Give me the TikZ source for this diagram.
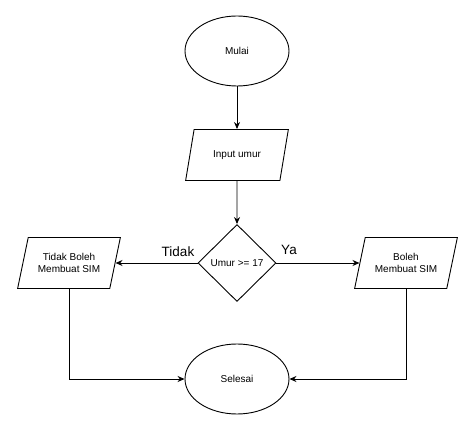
\documentclass[tikz,border=0pt]{standalone}
\usepackage{fontspec}
\setmainfont{Liberation Sans}
\usetikzlibrary{positioning,arrows.meta,shapes.geometric}

\begin{document}
\begin{tikzpicture}[x=1pt,y=-1pt,line width=0.9pt,
		term/.style={draw,ellipse,minimum width=104pt,minimum height=70pt,font=\fontsize{10}{12}\selectfont},
		io/.style={draw,trapezium,trapezium left angle=71,trapezium right angle=109,trapezium stretches=true,
			minimum width=103pt,minimum height=51pt,align=center,font=\fontsize{10}{12}\selectfont},
		cond/.style={draw,diamond,minimum width=78pt,minimum height=77pt,inner sep=0pt,font=\fontsize{10}{12}\selectfont},
		lbl/.style={font=\fontsize{13.5}{16}\selectfont},
		arr/.style={-{Stealth[length=7pt,width=6pt]}}]
		\useasboundingbox (0,0) rectangle (474,430);
		\node[term] (mulai) at (237,51) {Mulai};
		\node[io] (input) at (237,155) {Input umur};
		\node[cond] (umur) at (237,263) {Umur >= 17};
		\node[io] (tidak) at (69,263) {Tidak Boleh\\Membuat SIM};
		\node[io] (boleh) at (406,263) {Boleh\\Membuat SIM};
		\node[term] (selesai) at (237,379) {Selesai};
		\node[lbl] (ltidak) at (178,252) {Tidak};
		\node[lbl] (lya) at (289,250) {Ya};
		\draw[arr] (mulai) -- (input);
		\draw[arr] (input) -- (umur);
		\draw[arr] (umur) -- (tidak);
		\draw[arr] (umur) -- (boleh);
		\draw[arr] (tidak) |- (selesai);
		\draw[arr] (boleh) |- (selesai);
	\end{tikzpicture}
\end{document}
